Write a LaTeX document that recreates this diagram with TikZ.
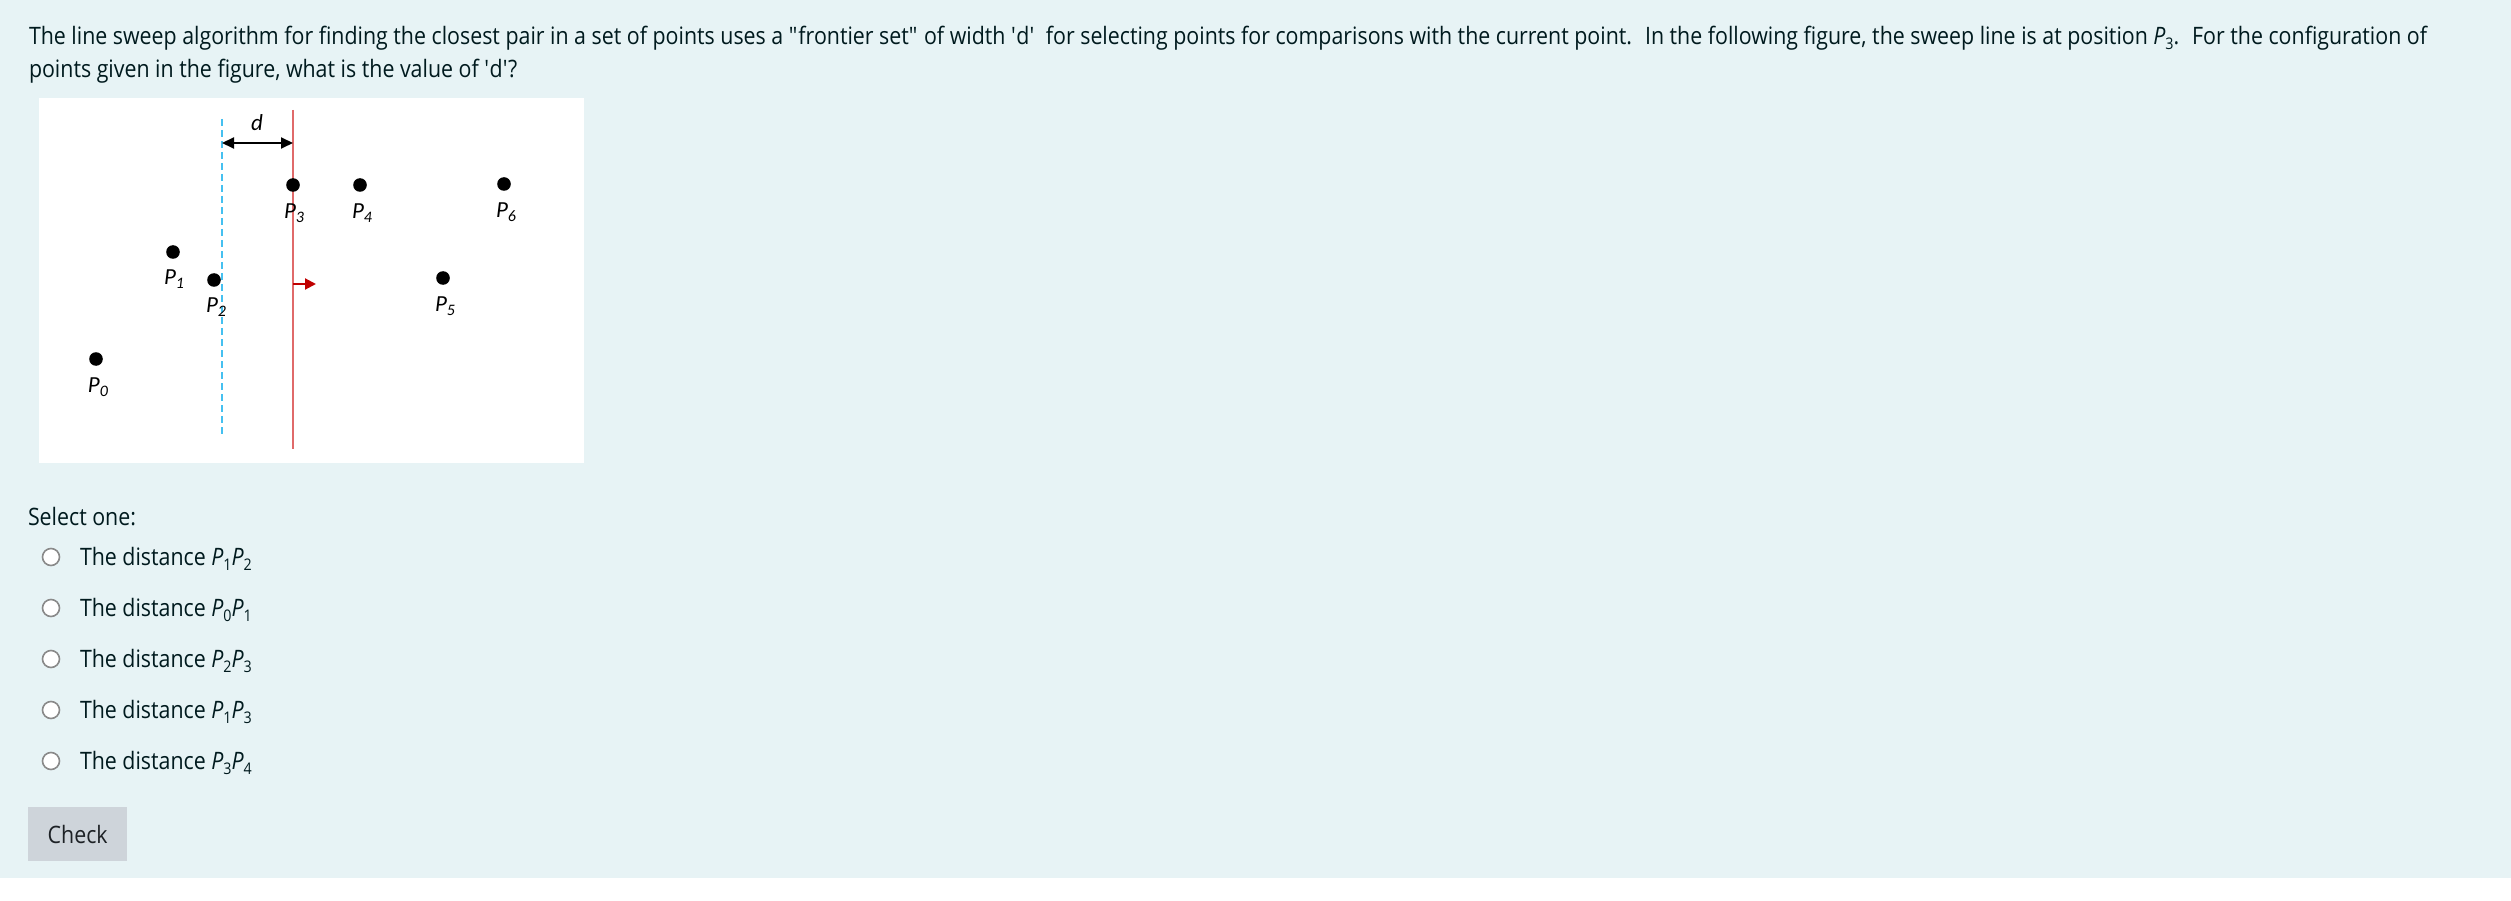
\documentclass[tikz,border=0pt]{standalone}
\usepackage{fontspec}
\setmainfont{Open Sans}[FakeStretch=0.89]
\newfontfamily\figfont{Carlito}
\usetikzlibrary{arrows.meta}
\definecolor{qbg}{HTML}{E7F3F5}
\definecolor{qtext}{HTML}{001A1E}
\definecolor{sweepred}{HTML}{E06A6A}
\definecolor{darkred}{HTML}{C00000}
\definecolor{frontblue}{HTML}{45C0F0}
\definecolor{btnfill}{HTML}{CED4DA}
\definecolor{btntext}{HTML}{1D2125}
\definecolor{radiogray}{HTML}{8A8A8A}
\newcommand{\sq}{\textquotesingle}
\newcommand{\dq}{\textquotedbl}
\newcommand{\Pq}[1]{\textit{P}\raisebox{-0.22em}{\fontsize{16}{16}\selectfont #1}}
\newcommand{\Pf}[1]{\textit{P}\raisebox{-0.2em}{\fontsize{16}{16}\selectfont\textit{#1}}}
\tikzset{
  txt/.style={anchor=base west, inner sep=0pt, outer sep=0pt, text=qtext},
  ptdot/.style={circle, fill=black, minimum size=13.6pt, inner sep=0pt},
  plabel/.style={font=\figfont\fontsize{23}{23}\selectfont, inner sep=0pt, text=black},
  radio/.style={circle, draw=radiogray, line width=1.6pt, fill=white, minimum size=17pt, inner sep=0pt},
}
\begin{document}
\begin{tikzpicture}[x=1pt, y=-1pt, font=\fontsize{24}{33.5}\selectfont]
\useasboundingbox (0,0) rectangle (2511,901);
\fill[qbg] (0,0) rectangle (2511,878);
% question text
\node[txt] (line1) at (29,44.3) {The line sweep algorithm for finding the closest pair in a set of points uses a \dq frontier set\dq\ of width \sq d\sq~ for selecting points for comparisons with the current point.~ In the following figure, the sweep line is at position \Pq{3}.~ For the configuration of};
\node[txt] (line2) at (29,77.7) {points given in the figure, what is the value of \sq d\sq?};
% figure panel
\node[fill=white, minimum width=545pt, minimum height=365pt, inner sep=0pt, anchor=north west] (panel) at (39,98) {};
\coordinate (bluetop) at (222,119);
\coordinate (bluebot) at (222,434);
\coordinate (redtop) at (293,110);
\coordinate (redbot) at (293,449);
\draw[frontblue, line width=2pt, dash pattern=on 7pt off 4pt] (bluetop) -- (bluebot);
\draw[sweepred, line width=2pt] (redtop) -- (redbot);
\coordinate (dl) at (222,143);
\coordinate (dr) at (293,143);
\draw[black, line width=2pt, {Triangle[length=12pt,width=11pt]}-{Triangle[length=12pt,width=11pt]}] (dl) -- (dr);
\node[plabel, font=\figfont\itshape\fontsize{23}{23}\selectfont] (dlab) at (257,123) {d};
\coordinate (as) at (293,284);
\coordinate (ae) at (316,284);
\draw[darkred, line width=2pt, -{Triangle[length=11pt,width=11pt]}] (as) -- (ae);
% points
\node[ptdot] (p0) at (96,359) {};
\node[ptdot] (p1) at (173,252) {};
\node[ptdot] (p2) at (214,280) {};
\node[ptdot] (p3) at (293,185) {};
\node[ptdot] (p4) at (360,185) {};
\node[ptdot] (p5) at (443,278) {};
\node[ptdot] (p6) at (504,184) {};
\node[plabel] (l0) at (98,387) {\Pf{0}};
\node[plabel] (l1) at (174,279) {\Pf{1}};
\node[plabel] (l2) at (216,307) {\Pf{2}};
\node[plabel] (l3) at (294,213) {\Pf{3}};
\node[plabel] (l4) at (362,213) {\Pf{4}};
\node[plabel] (l5) at (445,306) {\Pf{5}};
\node[plabel] (l6) at (506,212) {\Pf{6}};
% answers
\node[txt] (sel) at (28,525.7) {Select one:};
\node[radio] (r1) at (51,557) {};
\node[radio] (r2) at (51,608) {};
\node[radio] (r3) at (51,659) {};
\node[radio] (r4) at (51,710) {};
\node[radio] (r5) at (51,761) {};
\node[txt] (o1) at (80,565) {The distance \Pq{1}\Pq{2}};
\node[txt] (o2) at (80,616) {The distance \Pq{0}\Pq{1}};
\node[txt] (o3) at (80,667) {The distance \Pq{2}\Pq{3}};
\node[txt] (o4) at (80,718) {The distance \Pq{1}\Pq{3}};
\node[txt] (o5) at (80,769) {The distance \Pq{3}\Pq{4}};
\node[fill=btnfill, minimum width=99pt, minimum height=54pt, inner sep=0pt, anchor=north west, text=btntext] (check) at (28,807) {Check};
\end{tikzpicture}
\end{document}
